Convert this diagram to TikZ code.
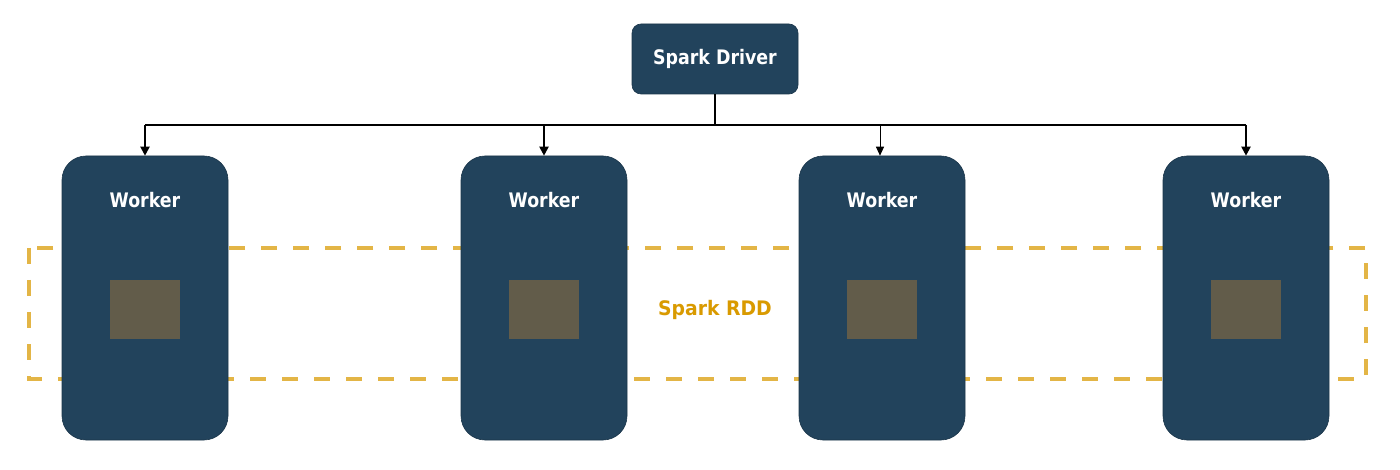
\documentclass[tikz,border=0pt]{standalone}
\usepackage{fontspec}
\setmainfont{DejaVu Sans}
\newfontfamily\lblfont{DejaVu Sans}[FakeStretch=0.87]
\newfontfamily\rddfont{DejaVu Sans}[FakeStretch=0.94]
\usetikzlibrary{arrows.meta}
\definecolor{navy}{HTML}{22435C}
\definecolor{rddfill}{HTML}{625C4A}
\definecolor{dashcol}{HTML}{E3B546}
\definecolor{rddtext}{HTML}{D99A00}
\tikzset{
  box/.style={fill=navy, draw=navy!80!black, line width=0.6pt},
  workerbox/.style={box, rounded corners=24, minimum width=166, minimum height=284, inner sep=0},
  driverbox/.style={box, rounded corners=9, minimum width=166, minimum height=70, text=white, font=\lblfont\bfseries\fontsize{20}{24}\selectfont},
  wlabel/.style={text=white, font=\lblfont\bfseries\fontsize{20}{24}\selectfont},
  rddbox/.style={fill=rddfill, minimum width=70, minimum height=59, inner sep=0},
  conn/.style={line width=2, -{Triangle[length=9,width=9]}},
  thinconn/.style={line width=1, -{Triangle[length=9,width=8]}},
  rddframe/.style={draw=dashcol, line width=4.5, dash pattern=on 16 off 16}
}
\begin{document}
\begin{tikzpicture}[x=1pt,y=-1pt]
\useasboundingbox[fill=white] (0,0) rectangle (1400,470);
% dashed RDD frame (behind workers)
\coordinate (fa) at (29,248);
\coordinate (fb) at (1366,379);
\draw[rddframe] (fa) rectangle (fb);
\node[text=rddtext, font=\rddfont\bfseries\fontsize{20}{24}\selectfont] (rdd) at (715,310) {Spark RDD};
% driver
\node[driverbox] (drv) at (715,59) {Spark Driver};
% workers
\foreach \n/\x in {1/145,2/544,3/882,4/1246}{
  \node[workerbox] (w\n) at (\x,298) {};
  \node[wlabel] (l\n) at (\x,200) {Worker};
  \node[rddbox] (r\n) at (\x,309.5) {};
}
% connectors
\coordinate (bus) at (715,125);
\draw[line width=2] (drv.south) -- (bus);
\draw[line width=2] (w1.north |- bus) -- (w4.north |- bus);
\draw[conn] (w1.north |- bus) -- (w1.north);
\draw[conn] (w2.north |- bus) -- (w2.north);
\draw[thinconn] ([xshift=-2]w3.north |- bus) -- ([xshift=-2]w3.north);
\draw[conn] (w4.north |- bus) -- (w4.north);
\end{tikzpicture}
\end{document}
